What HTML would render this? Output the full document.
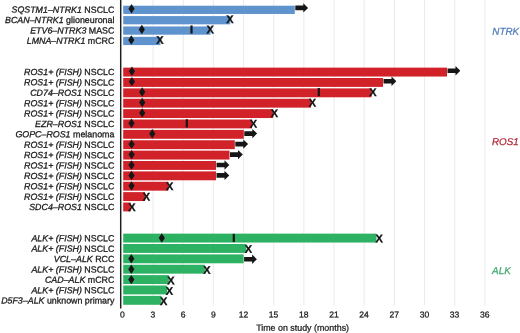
<!DOCTYPE html>
<html><head><meta charset="utf-8"><title>Time on study</title>
<style>
html,body{margin:0;padding:0;background:#fff;}
svg{display:block;text-rendering:geometricPrecision;font-family:"Liberation Sans",Arial,Helvetica,sans-serif;}
.lb{font-size:8.87px;fill:#1a1a1a;stroke:#1a1a1a;stroke-width:0.28px;text-anchor:end;}
.lb .i{font-style:italic;}
.tk{font-size:8.6px;fill:#1a1a1a;stroke:#1a1a1a;stroke-width:0.25px;text-anchor:middle;}
.x{font-size:11px;font-weight:bold;fill:#111;stroke:#111;stroke-width:0.3px;text-anchor:middle;}
.g{font-size:9.85px;font-style:italic;stroke-width:0.25px;}
</style></head><body>
<svg width="520" height="333" viewBox="0 0 520 333">
<rect width="520" height="333" fill="#fff"/>

<g stroke="#ececec" stroke-width="1.1">
<line x1="153.04" y1="0" x2="153.04" y2="305.6"/>
<line x1="183.21" y1="0" x2="183.21" y2="305.6"/>
<line x1="213.38" y1="0" x2="213.38" y2="305.6"/>
<line x1="243.54" y1="0" x2="243.54" y2="305.6"/>
<line x1="273.70" y1="0" x2="273.70" y2="305.6"/>
<line x1="303.87" y1="0" x2="303.87" y2="305.6"/>
<line x1="334.03" y1="0" x2="334.03" y2="305.6"/>
<line x1="364.20" y1="0" x2="364.20" y2="305.6"/>
<line x1="394.37" y1="0" x2="394.37" y2="305.6"/>
<line x1="424.53" y1="0" x2="424.53" y2="305.6"/>
<line x1="454.69" y1="0" x2="454.69" y2="305.6"/>
<line x1="484.86" y1="0" x2="484.86" y2="305.6"/>
</g>
<rect x="123.20" y="5.71" width="171.60" height="8.25" fill="#5f93ce"/>
<rect x="123.20" y="16.08" width="107.10" height="8.25" fill="#5f93ce"/>
<rect x="123.20" y="26.45" width="87.40" height="8.25" fill="#5f93ce"/>
<rect x="123.20" y="36.83" width="37.20" height="8.25" fill="#5f93ce"/>
<rect x="123.20" y="67.63" width="323.80" height="8.9" fill="#d12229"/>
<rect x="123.20" y="78.00" width="259.80" height="8.9" fill="#d12229"/>
<rect x="123.20" y="88.38" width="248.30" height="8.9" fill="#d12229"/>
<rect x="123.20" y="98.75" width="187.80" height="8.9" fill="#d12229"/>
<rect x="123.20" y="109.13" width="149.90" height="8.9" fill="#d12229"/>
<rect x="123.20" y="119.50" width="128.80" height="8.9" fill="#d12229"/>
<rect x="123.20" y="129.88" width="120.60" height="8.9" fill="#d12229"/>
<rect x="123.20" y="140.26" width="111.60" height="8.9" fill="#d12229"/>
<rect x="123.20" y="150.63" width="106.30" height="8.9" fill="#d12229"/>
<rect x="123.20" y="161.01" width="92.80" height="8.9" fill="#d12229"/>
<rect x="123.20" y="171.38" width="92.80" height="8.9" fill="#d12229"/>
<rect x="123.20" y="181.76" width="45.10" height="8.9" fill="#d12229"/>
<rect x="123.20" y="192.13" width="21.90" height="8.9" fill="#d12229"/>
<rect x="123.20" y="202.51" width="7.40" height="8.9" fill="#d12229"/>
<rect x="123.20" y="233.63" width="253.30" height="8.9" fill="#2db162"/>
<rect x="123.20" y="244.01" width="123.20" height="8.9" fill="#2db162"/>
<rect x="123.20" y="254.38" width="120.40" height="8.9" fill="#2db162"/>
<rect x="123.20" y="264.75" width="81.70" height="8.9" fill="#2db162"/>
<rect x="123.20" y="275.13" width="45.70" height="8.9" fill="#2db162"/>
<rect x="123.20" y="285.50" width="44.00" height="8.9" fill="#2db162"/>
<rect x="123.20" y="295.88" width="38.40" height="8.9" fill="#2db162"/>
<g fill="#161616">
<path d="M131.50 4.00L134.60 8.70L131.50 13.40L128.40 8.70Z"/>
<path d="M295.30 5.60H303.30V3.30L308.10 7.95L303.30 12.60V10.30H295.30Z"/>
<path d="M141.80 24.84L144.90 29.54L141.80 34.24L138.70 29.54Z"/>
<rect x="190.40" y="25.44" width="2.2" height="8.2"/>
<path d="M131.30 35.26L134.40 39.96L131.30 44.66L128.20 39.96Z"/>
<path d="M131.90 66.52L135.00 71.22L131.90 75.92L128.80 71.22Z"/>
<path d="M447.50 68.42H455.50V66.12L460.30 70.77L455.50 75.42V73.12H447.50Z"/>
<path d="M131.90 76.94L135.00 81.64L131.90 86.34L128.80 81.64Z"/>
<path d="M383.50 78.89H391.50V76.59L396.30 81.24L391.50 85.89V83.59H383.50Z"/>
<path d="M142.20 87.36L145.30 92.06L142.20 96.76L139.10 92.06Z"/>
<rect x="317.70" y="87.96" width="2.2" height="8.2"/>
<path d="M142.20 97.78L145.30 102.48L142.20 107.18L139.10 102.48Z"/>
<path d="M142.20 108.20L145.30 112.90L142.20 117.60L139.10 112.90Z"/>
<path d="M131.50 118.62L134.60 123.32L131.50 128.02L128.40 123.32Z"/>
<rect x="185.70" y="119.22" width="2.2" height="8.2"/>
<path d="M152.30 129.04L155.40 133.74L152.30 138.44L149.20 133.74Z"/>
<path d="M244.30 131.24H252.30V128.94L257.10 133.59L252.30 138.24V135.94H244.30Z"/>
<path d="M131.60 139.46L134.70 144.16L131.60 148.86L128.50 144.16Z"/>
<path d="M235.30 141.71H243.30V139.41L248.10 144.06L243.30 148.71V146.41H235.30Z"/>
<path d="M131.60 149.88L134.70 154.58L131.60 159.28L128.50 154.58Z"/>
<path d="M230.00 152.18H238.00V149.88L242.80 154.53L238.00 159.18V156.88H230.00Z"/>
<path d="M131.50 160.30L134.60 165.00L131.50 169.70L128.40 165.00Z"/>
<path d="M216.50 162.65H224.50V160.35L229.30 165.00L224.50 169.65V167.35H216.50Z"/>
<path d="M131.50 170.72L134.60 175.42L131.50 180.12L128.40 175.42Z"/>
<path d="M216.50 173.12H224.50V170.82L229.30 175.47L224.50 180.12V177.82H216.50Z"/>
<path d="M131.50 181.14L134.60 185.84L131.50 190.54L128.40 185.84Z"/>
<path d="M161.80 233.24L164.90 237.94L161.80 242.64L158.70 237.94Z"/>
<rect x="232.70" y="233.84" width="2.2" height="8.2"/>
<path d="M131.30 254.08L134.40 258.78L131.30 263.48L128.20 258.78Z"/>
<path d="M244.10 256.88H252.10V254.58L256.90 259.23L252.10 263.88V261.58H244.10Z"/>
<path d="M131.30 264.50L134.40 269.20L131.30 273.90L128.20 269.20Z"/>
<path d="M131.30 274.92L134.40 279.62L131.30 284.32L128.20 279.62Z"/>
</g>
<text class="lb" transform="rotate(0.04 114.40 12.70)" x="114.4" y="12.70"><tspan class="i">SQSTM1–NTRK1</tspan> NSCLC</text>
<text class="x" transform="rotate(0.04 229.90 22.92)" x="229.90" y="22.92">X</text>
<text class="lb" transform="rotate(0.04 114.40 23.09)" x="114.4" y="23.09"><tspan class="i">BCAN–NTRK1</tspan> glioneuronal</text>
<text class="x" transform="rotate(0.04 210.20 33.37)" x="210.20" y="33.37">X</text>
<text class="lb" transform="rotate(0.04 114.40 33.48)" x="114.4" y="33.48"><tspan class="i">ETV6–NTRK3</tspan> MASC</text>
<text class="x" transform="rotate(0.04 160.00 43.82)" x="160.00" y="43.82">X</text>
<text class="lb" transform="rotate(0.04 114.40 43.87)" x="114.4" y="43.87"><tspan class="i">LMNA–NTRK1</tspan> mCRC</text>
<text class="lb" transform="rotate(0.04 114.40 75.04)" x="114.4" y="75.04"><tspan class="i">ROS1+ (FISH)</tspan> NSCLC</text>
<text class="lb" transform="rotate(0.04 114.40 85.43)" x="114.4" y="85.43"><tspan class="i">ROS1+ (FISH)</tspan> NSCLC</text>
<text class="x" transform="rotate(0.04 372.90 96.08)" x="372.90" y="96.08">X</text>
<text class="lb" transform="rotate(0.04 114.40 95.82)" x="114.4" y="95.82"><tspan class="i">CD74–ROS1</tspan> NSCLC</text>
<text class="x" transform="rotate(0.04 312.40 106.53)" x="312.40" y="106.53">X</text>
<text class="lb" transform="rotate(0.04 114.40 106.21)" x="114.4" y="106.21"><tspan class="i">ROS1+ (FISH)</tspan> NSCLC</text>
<text class="x" transform="rotate(0.04 274.50 116.98)" x="274.50" y="116.98">X</text>
<text class="lb" transform="rotate(0.04 114.40 116.60)" x="114.4" y="116.60"><tspan class="i">ROS1+ (FISH)</tspan> NSCLC</text>
<text class="x" transform="rotate(0.04 253.40 127.43)" x="253.40" y="127.43">X</text>
<text class="lb" transform="rotate(0.04 114.40 126.99)" x="114.4" y="126.99"><tspan class="i">EZR–ROS1</tspan> NSCLC</text>
<text class="lb" transform="rotate(0.04 114.40 137.38)" x="114.4" y="137.38"><tspan class="i">GOPC–ROS1</tspan> melanoma</text>
<text class="lb" transform="rotate(0.04 114.40 147.77)" x="114.4" y="147.77"><tspan class="i">ROS1+ (FISH)</tspan> NSCLC</text>
<text class="lb" transform="rotate(0.04 114.40 158.16)" x="114.4" y="158.16"><tspan class="i">ROS1+ (FISH)</tspan> NSCLC</text>
<text class="lb" transform="rotate(0.04 114.40 168.55)" x="114.4" y="168.55"><tspan class="i">ROS1+ (FISH)</tspan> NSCLC</text>
<text class="lb" transform="rotate(0.04 114.40 178.94)" x="114.4" y="178.94"><tspan class="i">ROS1+ (FISH)</tspan> NSCLC</text>
<text class="x" transform="rotate(0.04 169.70 190.14)" x="169.70" y="190.14">X</text>
<text class="lb" transform="rotate(0.04 114.40 189.33)" x="114.4" y="189.33"><tspan class="i">ROS1+ (FISH)</tspan> NSCLC</text>
<text class="x" transform="rotate(0.04 146.50 200.59)" x="146.50" y="200.59">X</text>
<text class="lb" transform="rotate(0.04 114.40 199.72)" x="114.4" y="199.72"><tspan class="i">ROS1+ (FISH)</tspan> NSCLC</text>
<text class="x" transform="rotate(0.04 132.00 211.04)" x="132.00" y="211.04">X</text>
<text class="lb" transform="rotate(0.04 114.40 210.11)" x="114.4" y="210.11"><tspan class="i">SDC4–ROS1</tspan> NSCLC</text>
<text class="x" transform="rotate(0.04 379.10 242.39)" x="379.10" y="242.39">X</text>
<text class="lb" transform="rotate(0.04 114.40 241.28)" x="114.4" y="241.28"><tspan class="i">ALK+ (FISH)</tspan> NSCLC</text>
<text class="x" transform="rotate(0.04 248.50 252.84)" x="248.50" y="252.84">X</text>
<text class="lb" transform="rotate(0.04 114.40 251.67)" x="114.4" y="251.67"><tspan class="i">ALK+ (FISH)</tspan> NSCLC</text>
<text class="lb" transform="rotate(0.04 114.40 262.06)" x="114.4" y="262.06"><tspan class="i">VCL–ALK</tspan> RCC</text>
<text class="x" transform="rotate(0.04 207.00 273.75)" x="207.00" y="273.75">X</text>
<text class="lb" transform="rotate(0.04 114.40 272.45)" x="114.4" y="272.45"><tspan class="i">ALK+ (FISH)</tspan> NSCLC</text>
<text class="x" transform="rotate(0.04 171.00 284.20)" x="171.00" y="284.20">X</text>
<text class="lb" transform="rotate(0.04 114.40 282.84)" x="114.4" y="282.84"><tspan class="i">CAD–ALK</tspan> mCRC</text>
<text class="x" transform="rotate(0.04 169.30 294.65)" x="169.30" y="294.65">X</text>
<text class="lb" transform="rotate(0.04 114.40 293.23)" x="114.4" y="293.23"><tspan class="i">ALK+ (FISH)</tspan> NSCLC</text>
<text class="x" transform="rotate(0.04 163.70 305.10)" x="163.70" y="305.10">X</text>
<text class="lb" transform="rotate(0.04 114.40 303.62)" x="114.4" y="303.62"><tspan class="i">D5F3–ALK</tspan> unknown primary</text>
<line x1="120.7" y1="0" x2="120.7" y2="308.4" stroke="#1c1c1c" stroke-width="1.45"/>
<text class="tk" transform="rotate(0.04 122.30 317.60)" x="122.30" y="317.6">0</text>
<text class="tk" transform="rotate(0.04 152.94 317.60)" x="152.94" y="317.6">3</text>
<text class="tk" transform="rotate(0.04 183.11 317.60)" x="183.11" y="317.6">6</text>
<text class="tk" transform="rotate(0.04 213.28 317.60)" x="213.28" y="317.6">9</text>
<text class="tk" transform="rotate(0.04 243.44 317.60)" x="243.44" y="317.6">12</text>
<text class="tk" transform="rotate(0.04 273.60 317.60)" x="273.60" y="317.6">15</text>
<text class="tk" transform="rotate(0.04 303.77 317.60)" x="303.77" y="317.6">18</text>
<text class="tk" transform="rotate(0.04 333.93 317.60)" x="333.93" y="317.6">21</text>
<text class="tk" transform="rotate(0.04 364.10 317.60)" x="364.10" y="317.6">24</text>
<text class="tk" transform="rotate(0.04 394.26 317.60)" x="394.26" y="317.6">27</text>
<text class="tk" transform="rotate(0.04 424.43 317.60)" x="424.43" y="317.6">30</text>
<text class="tk" transform="rotate(0.04 454.59 317.60)" x="454.59" y="317.6">33</text>
<text class="tk" transform="rotate(0.04 484.76 317.60)" x="484.76" y="317.6">36</text>
<text class="tk" style="font-size:8.88px" transform="rotate(0.04 302.60 330.70)" x="302.6" y="330.7">Time on study (months)</text>
<text class="g" transform="rotate(0.04 492.30 34.70)" x="492.3" y="34.7" fill="#4f7db6" stroke="#4f7db6">NTRK</text>
<text class="g" transform="rotate(0.04 492.00 144.90)" x="492.0" y="145" fill="#b32a3a" stroke="#b32a3a">ROS1</text>
<text class="g" transform="rotate(0.04 492.10 274.00)" x="492.1" y="274" fill="#3fa86c" stroke="#3fa86c">ALK</text>
</svg></body></html>
